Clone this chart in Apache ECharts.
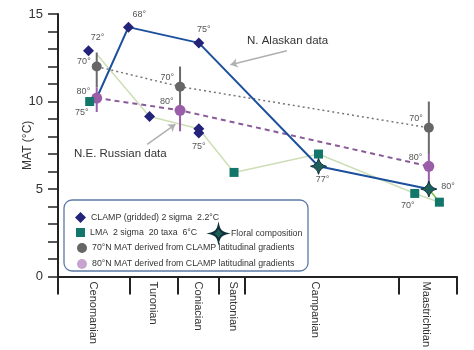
<!DOCTYPE html>
<html>
<head>
<meta charset="utf-8">
<script src="https://cdn.jsdelivr.net/npm/echarts@6/dist/echarts.min.js"></script>
<style>html,body{margin:0;padding:0;background:#fff}#main{width:474px;height:350px}</style>
</head>
<body>
<div id="main"></div>
<script>
// stages (age, Ma) on the x axis
var stageBounds = [100, 93.9, 89.8, 86.3, 84.1, 71.0, 66];
var stageNames = ['Cenomanian', 'Turonian', 'Coniacian', 'Santonian', 'Campanian', 'Maastrichtian'];
var stageMid = [97.0, 91.9, 88.1, 85.1, 78.1, 68.6];

// [age, MAT]
var clampPts = [[97.4, 12.9], [94.0, 14.25], [88.0, 13.35], [92.2, 9.15], [88.0, 8.45], [88.0, 8.2]];
var clampLat = ['72°', '68°', '75°', '', '', '75°'];
var alaskaLine = [[96.7, 10.2], [94.0, 14.25], [88.0, 13.35], [77.8, 6.3], [68.4, 5.0]];
var lmaPts = [[97.3, 10.0], [85.0, 5.95], [77.8, 7.0], [69.6, 4.75], [67.5, 4.25]];
var lmaLat = ['75°', '', '', '70°', ''];
var russiaLine = [[96.7, 12.7], [92.2, 9.15], [88.0, 8.45], [85.0, 5.95], [77.8, 7.0], [69.6, 4.75], [67.5, 4.25]];
var lastLink = [[68.4, 5.0], [67.5, 4.25]];
var floralPts = [[77.8, 6.3], [68.4, 5.0]];
var floralLat = ['77°', '80°'];
var lat70 = [[96.7, 12.0], [89.6, 10.85], [68.4, 8.5]];
var lat80 = [[96.7, 10.2], [89.6, 9.5], [68.4, 6.3]];
// [age, top, bottom]
var bar70 = [[96.7, 12.8, 10.8], [89.6, 12.0, 9.8], [68.4, 10.0, 7.0]];
var bar80 = [[96.7, 10.8, 9.4], [89.6, 9.8, 8.3], [68.4, 7.0, 4.7]];

var starPath = 'path://M0,-10 Q1.8,-1.8 10,0 Q1.8,1.8 0,10 Q-1.8,1.8 -10,0 Q-1.8,-1.8 0,-10 Z';
var nameClamp = 'CLAMP (gridded) 2 sigma  2.2°C';
var nameLma = 'LMA  2 sigma  20 taxa  6°C';
var nameFloral = 'Floral composition';
var name70 = '70°N MAT derived from CLAMP latitudinal gradients';
var name80 = '80°N MAT derived from CLAMP latitudinal gradients';

function withLabels(pts, texts, places) {
    return pts.map(function (p, i) {
        var pl = places[i] || ['top', [0, 0]];
        return {
            value: p,
            label: { show: !!texts[i], formatter: texts[i], position: pl[0], offset: pl[1],
                     fontSize: 9, color: '#555', distance: 3 }
        };
    });
}

function barItem(color) {
    return function (params, api) {
        var a = api.coord([api.value(0), api.value(1)]);
        var b = api.coord([api.value(0), api.value(2)]);
        return { type: 'line', shape: { x1: a[0], y1: a[1], x2: b[0], y2: b[1] },
                 style: { stroke: color, lineWidth: 2 } };
    };
}

var myChart = echarts.init(document.getElementById('main'));
var legendText = { fontSize: 8.8, color: '#333' };

var option = {
    animation: false,
    grid: { left: 58, right: 17, top: 14, bottom: 72 },
    xAxis: {
        type: 'value', min: 66, max: 100, inverse: true,
        axisLine: { lineStyle: { color: '#222', width: 2 } },
        axisTick: { show: true, customValues: stageBounds, length: 18, lineStyle: { color: '#222', width: 2 } },
        axisLabel: {
            customValues: stageMid, rotate: -90, margin: 5, fontSize: 11, color: '#333',
            formatter: function (v) {
                var best = 0;
                stageMid.forEach(function (m, i) { if (Math.abs(m - v) < Math.abs(stageMid[best] - v)) best = i; });
                return stageNames[best];
            }
        },
        splitLine: { show: false }
    },
    yAxis: {
        type: 'value', min: 0, max: 15, interval: 5,
        name: 'MAT (°C)', nameLocation: 'middle', nameGap: 24, nameMoveOverlap: false,
        nameTextStyle: { fontSize: 12, color: '#333' },
        axisLine: { show: true, lineStyle: { color: '#222', width: 2 } },
        axisTick: { show: true, length: 10, lineStyle: { color: '#222', width: 1.5 } },
        minorTick: { show: true, splitNumber: 5, length: 10, lineStyle: { color: '#222', width: 1.5 } },
        axisLabel: { fontSize: 13, color: '#333', margin: 15 },
        splitLine: { show: false }
    },
    legend: [
        { data: [{ name: nameClamp, icon: 'diamond' }], left: 70, top: 207, itemWidth: 11, itemHeight: 11,
          textStyle: legendText, selectedMode: false },
        { data: [{ name: nameLma, icon: 'rect' }], left: 71, top: 223, itemWidth: 9, itemHeight: 9,
          textStyle: legendText, selectedMode: false },
        { data: [{ name: nameFloral, icon: starPath }], left: 205, top: 220, itemWidth: 15, itemHeight: 15,
          textStyle: legendText, selectedMode: false },
        { data: [{ name: name70, icon: 'circle' }], left: 72, top: 238, itemWidth: 10, itemHeight: 10,
          textStyle: legendText, selectedMode: false },
        { data: [{ name: name80, icon: 'circle', itemStyle: { color: '#c7a4d0' } }], left: 72, top: 254,
          itemWidth: 10, itemHeight: 10, textStyle: legendText, selectedMode: false }
    ],
    graphic: [
        { type: 'rect', z: 3, shape: { x: 64, y: 200, width: 244, height: 71, r: 8 },
          style: { fill: '#fff', stroke: '#5b79a6', lineWidth: 1.3 } },
        { type: 'text', left: 247, top: 35, style: { text: 'N. Alaskan data', fontSize: 11.5, fill: '#333' } },
        { type: 'text', left: 74, top: 148, style: { text: 'N.E. Russian data', fontSize: 11.5, fill: '#333' } }
    ],
    series: [
        { type: 'line', data: russiaLine, symbol: 'none', z: 1,
          lineStyle: { color: '#cddfb6', width: 1.5 },
          markLine: { silent: true, symbol: ['none', 'arrow'], symbolSize: 7, label: { show: false },
                      lineStyle: { color: '#b0b0b0', width: 1.5, type: 'solid' },
                      data: [[{ coord: [92.4, 7.55] }, { coord: [90.0, 8.7] }],
                             [{ coord: [80.5, 12.9] }, { coord: [85.3, 12.1] }]] } },
        { type: 'line', data: lastLink, symbol: 'none', z: 1, lineStyle: { color: '#7cbf45', width: 1.5 } },
        { type: 'line', data: lat70, symbol: 'none', z: 1, lineStyle: { color: '#777', width: 1.5, type: [2, 3] } },
        { type: 'line', data: lat80, symbol: 'none', z: 1, lineStyle: { color: '#8a5a98', width: 2, type: [5, 4] } },
        { type: 'line', data: alaskaLine, symbol: 'none', z: 2, lineStyle: { color: '#1c4f9c', width: 2 } },
        { type: 'custom', data: bar70, renderItem: barItem('#6a6a6a'), encode: { x: 0, y: [1, 2] }, z: 2 },
        { type: 'custom', data: bar80, renderItem: barItem('#9a5ea8'), encode: { x: 0, y: [1, 2] }, z: 2 },
        { name: name70, type: 'scatter', symbol: 'circle', symbolSize: 10, z: 3,
          itemStyle: { color: '#666', opacity: 1 },
          data: withLabels(lat70, ['70°', '70°', '70°'], [['left', [2, -5]], ['left', [2, -9]], ['left', [2, -9]]]) },
        { name: name80, type: 'scatter', symbol: 'circle', symbolSize: 11, z: 3,
          itemStyle: { color: '#9a5ea8', opacity: 1 },
          data: withLabels(lat80, ['80°', '80°', '80°'], [['left', [2, -7]], ['left', [2, -9]], ['left', [2, -9]]]) },
        { name: nameLma, type: 'scatter', symbol: 'rect', symbolSize: 9, z: 4,
          itemStyle: { color: '#12766b', opacity: 1 },
          data: withLabels(lmaPts, lmaLat, [['bottom', [-8, -1]], null, null, ['bottom', [-7, 0]], null]) },
        { name: nameClamp, type: 'scatter', symbol: 'diamond', symbolSize: 11, z: 4,
          itemStyle: { color: '#24237a', opacity: 1 },
          data: withLabels(clampPts, clampLat, [['top', [9, 0]], ['top', [11, 0]], ['top', [5, 0]], null, null, ['bottom', [0, 0]]]) },
        { name: nameFloral, type: 'scatter', symbol: starPath, symbolSize: 16, z: 5,
          itemStyle: { color: '#1f5f5b', borderColor: '#10303a', borderWidth: 1, opacity: 1 },
          data: withLabels(floralPts, floralLat, [['bottom', [4, -3]], ['right', [1, -3]]]) }
    ]
};

myChart.setOption(option);
</script>
</body>
</html>
